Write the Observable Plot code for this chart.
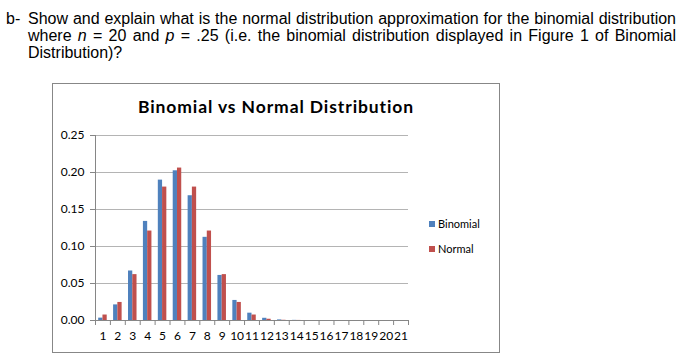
<!DOCTYPE html>
<html><head><meta charset="utf-8">
<script src="https://cdn.jsdelivr.net/npm/d3@7"></script>
<script src="https://cdn.jsdelivr.net/npm/@observablehq/plot@0.6"></script>
<style>
html,body{margin:0;padding:0;background:#fff;}
body{width:685px;height:358px;overflow:hidden;position:relative;font-family:"Liberation Sans",Arial,sans-serif;}
.q{position:absolute;left:0;top:10px;width:676px;font-size:16px;line-height:17px;color:#000;}
.q .lbl{position:absolute;left:6px;top:0;}
.q .line{margin-left:28px;text-align:justify;text-align-last:justify;white-space:nowrap;}
.q .line.last{text-align:left;text-align-last:left;}
.frame{position:absolute;left:52px;top:83px;width:448px;height:270px;box-sizing:border-box;border:1px solid #878787;}
#chart{position:absolute;left:52px;top:83px;}
.title{position:absolute;left:52px;top:96px;width:448px;text-align:center;font-family:Lato,"Open Sans",sans-serif;font-weight:bold;font-size:17.5px;letter-spacing:0.9px;color:#000;padding-left:0px;box-sizing:border-box;}
.legend{position:absolute;left:429px;top:218px;font-family:Lato,"Open Sans",sans-serif;font-size:11px;color:#000;line-height:12px;}
.legend div{display:flex;align-items:center;height:12px;margin-bottom:13px;}
.legend span.sw{display:inline-block;width:6px;height:6px;margin-right:3px;}
</style>
</head><body>
<div class="q">
  <div class="lbl">b-</div>
  <div class="line">Show and explain what is the normal distribution approximation for the binomial distribution</div>
  <div class="line">where <i>n</i> = 20 and <i>p</i> = .25 (i.e. the binomial distribution displayed in Figure 1 of Binomial</div>
  <div class="line last">Distribution)?</div>
</div>
<div class="frame"></div>
<div id="chart"></div>
<div class="title">Binomial vs Normal Distribution</div>
<div class="legend" id="legend"></div>
<script>
const categories = [1,2,3,4,5,6,7,8,9,10,11,12,13,14,15,16,17,18,19,20,21];
const binomial = [0.0032,0.0211,0.0669,0.1339,0.1897,0.2023,0.1686,0.1124,0.0609,0.0271,0.0099,0.0030,0.0008,0.0002,0,0,0,0,0,0,0];
const normal   = [0.0074,0.0244,0.0620,0.1209,0.1803,0.2060,0.1803,0.1209,0.0620,0.0244,0.0074,0.0017,0.0003,0.0001,0,0,0,0,0,0,0];
const seriesNames = ["Binomial","Normal"];
const seriesColors = ["#4F81BD","#C0504D"];
const yTicks = [0,0.05,0.10,0.15,0.20,0.25];

const rows = categories.flatMap((c,i)=>[
  {c, s: seriesNames[0], v: binomial[i]},
  {c, s: seriesNames[1], v: normal[i]}
]);
const half = 0.2857; // bar width as a fraction of the category band
const boundaries = categories.map(c=>c-0.5).concat([categories[categories.length-1]+0.5]);
const axisGray = "#868686";

const chart = Plot.plot({
  width: 448, height: 270,
  marginLeft: 43, marginRight: 92, marginTop: 52, marginBottom: 33,
  style: {fontFamily: "Lato, 'Open Sans', sans-serif", fontSize: "12px", background: "transparent", color: "#000"},
  x: {type: "linear", domain: [0.5, 21.5], axis: null},
  y: {domain: [0, 0.25], axis: null},
  color: {domain: seriesNames, range: seriesColors},
  marks: [
    Plot.ruleY(yTicks.filter(v=>v>0), {stroke: "#b4b4b4", strokeWidth: 1}),
    Plot.rectY(rows, {
      x1: d => d.s === seriesNames[0] ? d.c - half : d.c,
      x2: d => d.s === seriesNames[0] ? d.c : d.c + half,
      y: "v", fill: "s"
    }),
    Plot.ruleX([0.5], {stroke: axisGray}),
    Plot.ruleY([0], {stroke: axisGray}),
    Plot.axisY(yTicks, {label: null, tickSize: 5, tickPadding: 6, tickFormat: ".2f", stroke: axisGray, fill: "#000", fontSize: 12}),
    Plot.axisX(boundaries, {label: null, tickSize: 5, tickFormat: () => "", stroke: axisGray}),
    Plot.axisX(categories, {label: null, tickSize: 0, tickPadding: 11, tickFormat: d => String(d), fill: "#000", fontSize: 12})
  ]
});
document.getElementById("chart").appendChild(chart);

const lg = document.getElementById("legend");
seriesNames.forEach((n,i)=>{
  const row = document.createElement("div");
  const sw = document.createElement("span");
  sw.className = "sw"; sw.style.background = seriesColors[i];
  row.appendChild(sw);
  row.appendChild(document.createTextNode(n));
  lg.appendChild(row);
});
</script>
</body></html>
